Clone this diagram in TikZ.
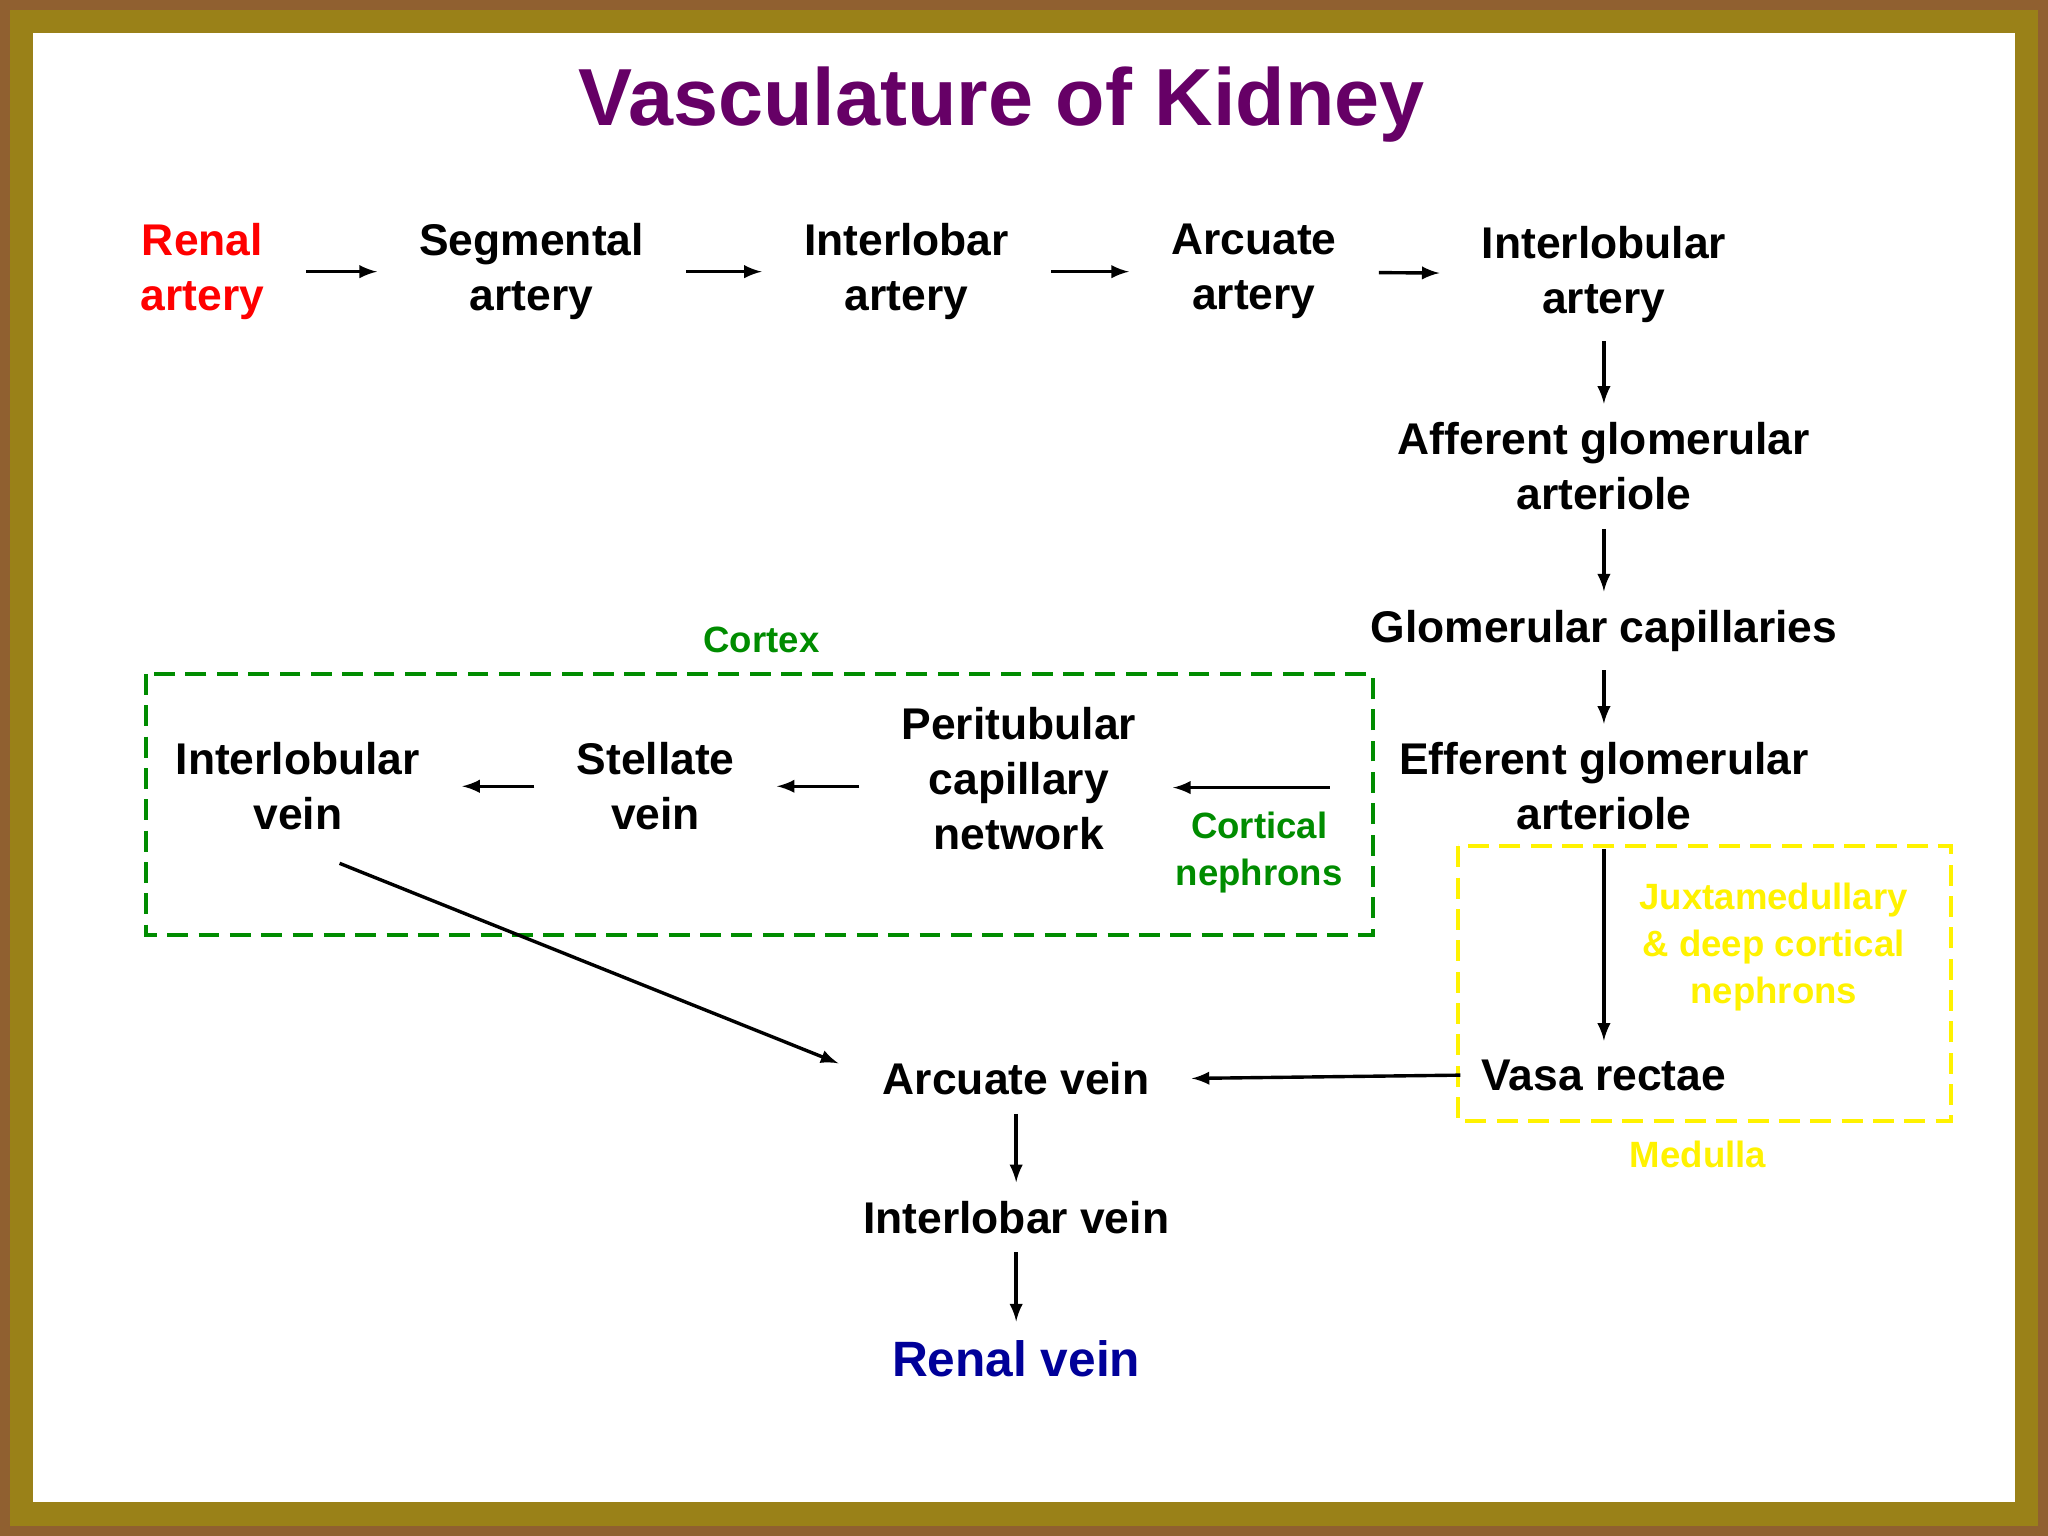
\documentclass[tikz,border=0pt]{standalone}
\usepackage{fontspec}
\setmainfont{Liberation Sans}
\begin{document}
\begin{tikzpicture}[x=0.5pt,y=-0.5pt,
  t/.style={font=\fontsize{17}{21}\selectfont\bfseries,align=center,inner sep=2pt},
  s/.style={font=\fontsize{14}{18}\selectfont\bfseries,align=center,inner sep=2pt},
  ar/.style={->,>=latex,line width=1.3pt,shorten <=14pt,shorten >=14pt},
  arv/.style={->,>=latex,line width=1.3pt,shorten <=5pt,shorten >=5pt}]
\useasboundingbox (0,0) rectangle (1568,1176);
\fill[brown!75!black] (0,0) rectangle (1568,1176);
\fill[brown!55!yellow!70!black] (8,8) rectangle (1560,1168);
\fill[white] (25,25) rectangle (1543,1150);
\node[font=\fontsize{31}{35}\selectfont\bfseries,text=violet!80!black] (title) at (767,80) {Vasculature of Kidney};
\node[t,text=red] (ra) at (155,208) {Renal\\artery};
\node[t] (sa) at (407,208) {Segmental\\artery};
\node[t] (ia) at (694,208) {Interlobar\\artery};
\node[t] (aa) at (960,208) {Arcuate\\artery};
\node[t] (ila) at (1228,210) {Interlobular\\artery};
\node[t] (aff) at (1228,357) {Afferent glomerular\\arteriole};
\node[t] (gc) at (1228,483) {Glomerular capillaries};
\node[t] (eff) at (1228,602) {Efferent glomerular\\arteriole};
\node[t] (vr) at (1228,823) {Vasa rectae};
\node[t] (ilv) at (228,602) {Interlobular\\vein};
\node[t] (sv) at (502,602) {Stellate\\vein};
\node[t] (pt) at (780,596) {Peritubular\\capillary\\network};
\node[s,text=green!55!black] (cn) at (964,653) {Cortical\\nephrons};
\node[t] (av) at (778,826) {Arcuate vein};
\node[t] (iv) at (778,932) {Interlobar vein};
\node[t,text=blue!60!black,font=\fontsize{19}{23}\selectfont\bfseries] (rv) at (778,1040) {Renal vein};
\node[s,text=green!55!black] (cx) at (583,490) {Cortex};
\node[s,text=yellow] (jx) at (1358,725) {Juxtamedullary\\\& deep cortical\\nephrons};
\node[s,text=yellow] (md) at (1300,884) {Medulla};
\draw[green!55!black,line width=1.5pt,dash pattern=on 8pt off 4pt] (112,516) rectangle (1051,716);
\draw[yellow,line width=1.5pt,dash pattern=on 8pt off 4pt] (1116,648) rectangle (1494,858);
\draw[ar] (ra) -- (sa);
\draw[ar] (sa) -- (ia);
\draw[ar] (ia) -- (aa);
\draw[ar] (aa) -- (ila);
\draw[arv] (ila) -- (aff);
\draw[arv] (aff) -- (gc);
\draw[arv] (gc) -- (eff);
\draw[arv] (eff) -- (vr);
\coordinate (pe) at (1018,603);
\draw[->,>=latex,line width=1.3pt,shorten >=12pt] (pe) -- (pt.east |- pe);
\draw[ar] (pt.west |- sv) -- (sv);
\draw[ar] (sv) -- (ilv);
\coordinate (dv) at (260,661);
\draw[->,>=latex,line width=1.3pt,shorten >=16pt] (dv) -- (av.west);
\draw[->,>=latex,line width=1.3pt,shorten <=6pt,shorten >=14pt] (vr.west) -- (av.east);
\draw[arv] (av) -- (iv);
\draw[arv] (iv) -- (rv);
\end{tikzpicture}
\end{document}
